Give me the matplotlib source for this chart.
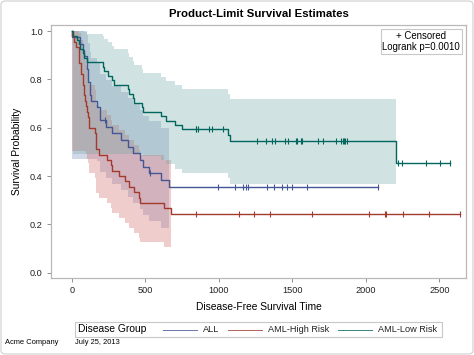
import numpy as np
import matplotlib
matplotlib.use("Agg")
import matplotlib.pyplot as plt
from matplotlib.lines import Line2D
from matplotlib.patches import Rectangle, FancyBboxPatch

plt.rcParams['font.family'] = ['Liberation Sans', 'DejaVu Sans']

# disease-free survival times (sashelp.BMT), split into events and censored
groups = ['ALL', 'AML-High Risk', 'AML-Low Risk']
events = {
    'ALL': [418, 383, 276, 104, 609, 172, 487, 662, 194, 230, 526, 122, 129, 74,
            122, 86, 466, 192, 109, 55, 1, 107, 110, 332],
    'AML-High Risk': [422, 162, 84, 100, 2, 47, 242, 456, 268, 318, 32, 467, 47,
                      390, 183, 105, 115, 164, 93, 120, 80, 677, 64, 168, 74, 16,
                      157, 625, 48, 273, 63, 76, 113, 363],
    'AML-Low Risk': [414, 2204, 1063, 481, 105, 641, 390, 288, 421, 79, 748, 486,
                     48, 272, 1074, 381, 10, 53, 80, 35, 248, 704, 211, 219, 606],
}
censored = {
    'ALL': [2081, 1602, 1496, 1462, 1433, 1377, 1330, 996, 226, 1199, 1111, 530,
            1182, 1167],
    'AML-High Risk': [2640, 2430, 2252, 2140, 2133, 1238, 1631, 2024, 1345, 1136, 845],
    'AML-Low Risk': [2569, 2506, 2409, 2218, 1857, 1829, 1562, 1470, 1363, 1030, 860,
                     1258, 2246, 1870, 1799, 1709, 1674, 1568, 1527, 1324, 957, 932,
                     847, 848, 1850, 1843, 1535, 1447, 1384],
}
# Hall-Wellner critical values (approx.)
hw_crit = {'ALL': 1.29, 'AML-High Risk': 1.25, 'AML-Low Risk': 1.30}

line_col = {'ALL': '#445694', 'AML-High Risk': '#A23A2E', 'AML-Low Risk': '#01665E'}
fill_col = {'ALL': '#6F7EB3', 'AML-High Risk': '#D05B5B', 'AML-Low Risk': '#66A5A0'}


def km(ev, ce):
    t_all = np.array(ev + ce, float)
    obs = np.r_[np.ones(len(ev)), np.zeros(len(ce))]
    ut = np.unique(ev)
    n = np.array([(t_all >= t).sum() for t in ut])
    d = np.array([((t_all == t) & (obs == 1)).sum() for t in ut])
    s = np.cumprod(1 - d / n)
    sig2 = np.cumsum(d / (n * (n - d)))
    return ut, s, sig2, len(t_all), t_all.max()


fig = plt.figure(figsize=(4.74, 3.55), dpi=100)
ax = fig.add_axes([51/474, 1-278/355, 415/474, 253/355])

curves = {}
for g in groups:
    ut, s, sig2, N, tmax = km(events[g], censored[g])
    curves[g] = (ut, s, tmax)
    # arcsine-square-root Hall-Wellner band
    half = 0.5 * hw_crit[g] * (1 + N*sig2) / np.sqrt(N) * np.sqrt(s / (1 - s))
    a = np.arcsin(np.sqrt(s))
    lo = np.minimum.accumulate(np.sin(np.maximum(0, a - half))**2)
    hi = np.minimum.accumulate(np.sin(np.minimum(np.pi/2, a + half))**2)
    ax.fill_between(ut, lo, hi, step='post', color=fill_col[g], alpha=0.3,
                    linewidth=0)

for g in groups:
    ut, s, tmax = curves[g]
    x = np.r_[0, ut, tmax]
    y = np.r_[1, s, s[-1]]
    ax.step(x, y, where='post', color=line_col[g], lw=1.0)
    ct = np.array(censored[g], float)
    idx = np.searchsorted(ut, ct, side='right') - 1
    cs = np.where(idx >= 0, s[np.maximum(idx, 0)], 1.0)
    ax.plot(ct, cs, ls='none', marker='|', ms=5, mew=0.8, color=line_col[g])

ax.set_xlim(-141, 2681)
ax.set_ylim(-0.022, 1.025)
ax.set_xticks([0, 500, 1000, 1500, 2000, 2500])
ax.set_yticks([0.0, 0.2, 0.4, 0.6, 0.8, 1.0])
ax.set_yticklabels(['0.0', '0.2', '0.4', '0.6', '0.8', '1.0'])
for sp in ax.spines.values():
    sp.set_color('#B8B8B8')
    sp.set_linewidth(0.9)
ax.tick_params(length=3, width=0.7, color='#909090', labelsize=6.6, labelcolor='#222222',
               pad=3)
ax.set_xlabel('Disease-Free Survival Time', fontsize=7.4, labelpad=5)
ax.set_ylabel('Survival Probability', fontsize=7.4, labelpad=6)
ax.set_title('Product-Limit Survival Estimates', fontsize=8.2, fontweight='bold', pad=6)

# inset box
ax.text(0.986, 0.976, '+ Censored\nLogrank p=0.0010', transform=ax.transAxes,
        ha='right', va='top', fontsize=6.9, linespacing=1.1, multialignment='center',
        bbox=dict(boxstyle='square,pad=0.2', fc='white', ec='#C8C8C8', lw=0.8))

# legend
W, H = 474, 355
fig.patches.append(Rectangle((75/W, 1-337/H), 367/W, 15/H, transform=fig.transFigure,
                             fc='white', ec='#C8C8C8', lw=0.8))
fig.text(78/W, 1-329.5/H, 'Disease Group', fontsize=7.4, va='center', ha='left')
leg_pos = [(163, 197, 203), (228, 262, 268), (338, 372, 378)]
for g, (x0, x1, xt) in zip(groups, leg_pos):
    fig.lines.append(Line2D([x0/W, x1/W], [1-329.5/H]*2, transform=fig.transFigure,
                            color=line_col[g], lw=0.7, alpha=0.8))
    fig.text(xt/W, 1-329.5/H, g, fontsize=6.6, va='center', ha='left', color='#222222')

fig.text(5/W, 1-343/H, 'Acme Company', fontsize=5.4, va='center', ha='left')
fig.text(75/W, 1-343/H, 'July 25, 2013', fontsize=5.4, va='center', ha='left')

fig.patches.append(FancyBboxPatch((1/W, 1/H), 472/W, 353/H, boxstyle='round,pad=0,rounding_size=0.01',
                                  transform=fig.transFigure, fc='none', ec='#D0D0D0', lw=0.8))

fig.savefig('out.png', dpi=100)
